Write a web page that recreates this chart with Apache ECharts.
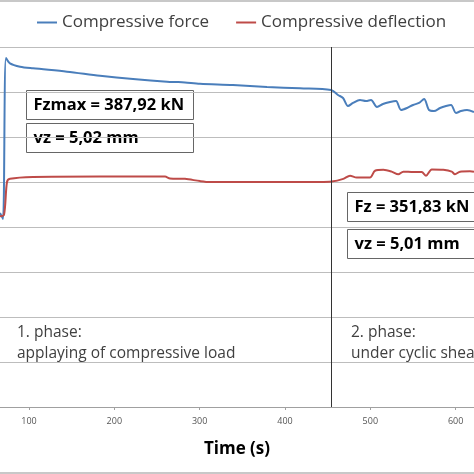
<!DOCTYPE html>
<html>
<head>
<meta charset="utf-8"/>
<title>Compressive force / deflection</title>
<script src="https://cdn.jsdelivr.net/npm/echarts@6/dist/echarts.min.js"></script>
<style>
  html, body { margin: 0; padding: 0; background: #fff; }
  #chart { width: 474px; height: 474px; }
</style>
</head>
<body>
<div id="chart"></div>
<script type="text/javascript">
// time (s) and values
var forceTime = [66, 69.5, 73, 77.7, 89.5, 104.7, 144.5, 183.2, 221.9, 261.7, 275, 282.8, 300.4, 339, 378.9, 417.6, 453.9,
  462.1, 468, 473.8, 479.7, 487.9, 494.9, 500.8, 507.8, 514.8, 523.1, 530.1, 536, 543, 550.1, 557.1, 563, 568.8,
  574.6, 581.7, 588.7, 594.6, 600.4, 606.3, 613.3, 621.5];
var forceKN = [215.6, 208.9, 387.9, 381.9, 378.1, 376.3, 372.6, 368.1, 364.4, 361.4, 361.0, 360.6, 359.2, 357.8, 355.6, 354.1, 352.2,
  346.7, 343.3, 334.4, 337.8, 341.1, 340, 341.1, 333.3, 336.7, 338.9, 340, 330, 332.2, 335.6, 337.8, 342.2, 330,
  328.9, 332.2, 334.4, 335.6, 326.7, 328.9, 330, 327.8];

var deflTime = [66, 70.7, 74.2, 77.7, 104.7, 183, 259.4, 265.2, 282.8, 300.4, 312.1, 441, 454.7,
  468.3, 476.2, 484, 499.6, 505.5, 515.2, 525, 532.8, 538.6, 550.4, 560.2, 565.3, 572, 585.5, 595.4,
  599.2, 605.1, 616.8, 621.5];
var deflMM = [4.24, 4.27, 5.0, 5.07, 5.11, 5.12, 5.12, 5.08, 5.07, 5.02, 5.0, 5.0, 5.01,
  5.07, 5.14, 5.1, 5.1, 5.25, 5.27, 5.23, 5.17, 5.23, 5.22, 5.22, 5.14, 5.28, 5.27, 5.23,
  5.17, 5.23, 5.24, 5.23];

var timeTicks = [100, 200, 300, 400, 500, 600];
var phaseSplit = 454;

var pairs = function (xs, ys) {
  return xs.map(function (x, i) { return [x, ys[i]]; });
};

var myChart = echarts.init(document.getElementById('chart'));
var font = '"Open Sans", "Noto Sans", sans-serif';

var box = function (x, y, txt) {
  return {
    type: 'group', left: x, top: y, z: 100,
    children: [
      { type: 'rect', shape: { x: 0, y: 0, width: 167, height: 29 },
        style: { fill: '#fff', stroke: '#666', lineWidth: 1 } },
      { type: 'text', x: 7, y: 15,
        style: { text: txt, fill: '#000', font: 'bold 16.5px ' + font, verticalAlign: 'middle' } }
    ]
  };
};

var option = {
  animation: false,
  textStyle: { fontFamily: font },
  legend: {
    top: 9, left: 32, itemGap: 27,
    icon: 'rect', itemWidth: 20, itemHeight: 2,
    textStyle: { fontSize: 17, color: '#404040', fontFamily: font },
    data: ['Compressive force', 'Compressive deflection']
  },
  grid: { left: 0, right: 0, top: 47, bottom: 67, containLabel: false },
  xAxis: {
    type: 'value', min: 66, max: 621.5,
    name: 'Time (s)', nameLocation: 'middle', nameGap: 34,
    nameTextStyle: { fontSize: 17, fontWeight: 'bold', color: '#000', fontFamily: font },
    axisLine: { lineStyle: { color: '#a0a0a0' } },
    axisTick: { show: true, customValues: timeTicks, length: 3, inside: false, lineStyle: { color: '#a0a0a0' } },
    axisLabel: { customValues: timeTicks, fontSize: 9, color: '#555', margin: 10 },
    splitLine: { show: false }
  },
  yAxis: [
    { type: 'value', min: 0, max: 400, interval: 50,
      axisLine: { show: false }, axisTick: { show: false }, axisLabel: { show: false },
      splitLine: { lineStyle: { color: '#bdbdbd', width: 1 } } },
    { type: 'value', min: 0, max: 8, interval: 1, position: 'right',
      axisLine: { show: false }, axisTick: { show: false }, axisLabel: { show: false },
      splitLine: { show: false } }
  ],
  series: [
    { name: 'Compressive force', type: 'line', yAxisIndex: 0,
      showSymbol: false, smooth: 0.3,
      lineStyle: { color: '#4a7ebb', width: 2 }, itemStyle: { color: '#4a7ebb' },
      data: pairs(forceTime, forceKN),
      markLine: {
        silent: true, symbol: 'none', label: { show: false },
        lineStyle: { color: '#333', width: 1, type: 'solid' },
        data: [{ xAxis: phaseSplit }]
      } },
    { name: 'Compressive deflection', type: 'line', yAxisIndex: 1,
      showSymbol: false, smooth: 0.3,
      lineStyle: { color: '#be4b48', width: 2 }, itemStyle: { color: '#be4b48' },
      data: pairs(deflTime, deflMM) }
  ],
  graphic: [
    { type: 'rect', left: 0, top: 0, shape: { width: 474, height: 2 }, style: { fill: '#c8c8c8' } },
    { type: 'rect', left: 0, top: 472, shape: { width: 474, height: 2 }, style: { fill: '#c8c8c8' } },
    box(26, 90, 'Fzmax = 387,92 kN'),
    box(26, 123, 'vz = 5,02 mm'),
    box(347, 192, 'Fz = 351,83 kN'),
    box(347, 229, 'vz = 5,01 mm'),
    { type: 'text', left: 17, top: 322,
      style: { text: '1. phase:\napplaying of compressive load', fill: '#404040', font: '15.5px ' + font, lineHeight: 21 } },
    { type: 'text', left: 351, top: 322,
      style: { text: '2. phase:\nunder cyclic shear load', fill: '#404040', font: '15.5px ' + font, lineHeight: 21 } }
  ]
};
myChart.setOption(option);
</script>
</body>
</html>
